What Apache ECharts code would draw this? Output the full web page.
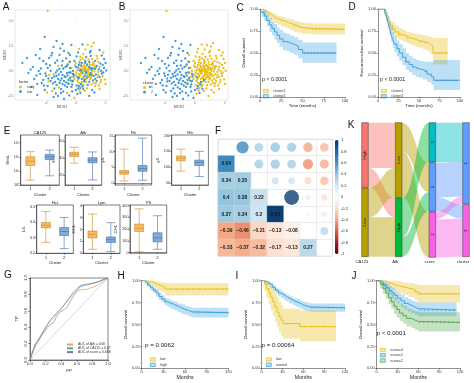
<!DOCTYPE html>
<html><head><meta charset="utf-8">
<script src="https://cdn.jsdelivr.net/npm/echarts@6/dist/echarts.min.js"></script>
<style>html,body{margin:0;padding:0;background:#fff}#c{width:474px;height:383px}</style>
</head><body><div id="c"></div>
<script>
// ================= DATA =================
// A/B: MDS coordinates (cluster 1 = yellow in B, cluster 2 = blue in B)
const mdsCluster1 = [
[0.5,0.0],[0.7,-0.2],[0.3,0.2],[0.9,0.1],[0.6,-0.5],[1.1,-0.3],[0.4,-0.8],[0.8,0.5],[1.3,0.2],[0.2,-0.3],
[0.0,0.4],[1.0,-0.7],[1.5,-0.1],[0.6,0.8],[0.1,-1.0],[1.2,0.7],[0.9,-1.1],[1.6,0.4],[0.3,1.1],[-0.2,0.0],
[1.8,-0.5],[0.7,1.4],[1.4,-1.0],[0.5,-1.4],[-0.3,-0.6],[1.9,0.3],[1.1,1.2],[0.2,0.6],[0.8,-0.4],[0.4,0.4],
[1.0,0.3],[0.6,0.1],[0.7,-0.8],[1.2,-0.5],[0.0,-0.4],[0.9,0.9],[1.5,0.9],[1.7,-0.9],[0.3,-1.7],[1.3,-1.5],
[-0.1,1.0],[0.5,1.7],[1.0,2.0],[1.4,1.5],[0.2,2.2],[0.8,2.6],[1.6,2.1],[-0.4,1.6],[1.2,2.8],[1.9,1.2],
[0.6,-2.0],[1.1,-1.9],[0.1,-2.3],[1.6,-1.8],[0.9,-2.5],[2.0,-1.3],[-0.5,-1.2],[-0.6,0.5],[2.0,0.8],[1.7,0.0],
[0.4,-0.1],[0.8,-0.1],[0.2,-0.7],[1.1,0.0],[0.6,0.4],[1.3,-0.8],[0.5,-0.6],[0.9,0.4],[0.3,-0.4],[1.4,0.5],
[0.7,0.2],[1.0,-0.2],[0.1,0.1],[1.2,-1.2],[0.4,0.8],[0.8,-1.4],[1.5,-0.4],[-0.1,-0.8],[1.8,0.6],[0.6,1.1],
[1.1,0.6],[0.0,0.8],[0.7,-1.1],[1.3,1.0],[0.3,1.4],[1.6,-0.6],[0.9,-0.6],[0.2,-1.2],[1.0,1.5],[-0.3,0.3],
[-1.9,6.0],
[0.45,-0.25],[0.65,-0.35],[0.35,0.05],[0.85,-0.15],[0.55,0.25],[1.05,0.15],[0.25,-0.55],[0.75,0.65],[1.25,-0.05],[0.15,0.35],
[0.95,-0.85],[0.55,-1.05],[1.35,0.35],[0.05,-0.15],[0.65,0.95],[1.15,-0.95],[0.35,-1.25],[1.55,0.15],[0.85,1.15],[-0.15,-0.35],
[1.75,-0.25],[0.45,1.25],[1.05,-1.35],[0.25,0.85],[1.45,-0.65],[0.75,-0.65],[0.95,0.65],[0.15,-0.85],[1.65,0.75],[0.55,-0.75],
[1.25,0.45],[0.35,0.55],[0.85,0.25],[0.65,-0.05],[1.15,0.85],[-0.05,0.55],[1.85,-0.15],[0.45,-1.55],[1.35,-1.25],[0.95,1.85],
[0.65,2.15],[1.45,1.25],[0.05,1.45],[1.75,1.55],[0.25,-1.95],[1.25,-2.15],[0.75,-1.75],[1.95,-0.85],[-0.35,-0.15],[0.55,0.55],
[1.05,-0.45],[0.35,-0.15],[0.75,0.05],[0.95,-0.35],[0.45,0.15],[1.15,0.25],[0.25,0.05],[0.65,0.45],[0.85,-0.55],[1.35,-0.35],
[-0.45,0.95],[0.15,1.85],[1.55,-1.45],[0.05,-1.45],[1.65,-1.15],[-0.25,-1.05],[2.05,0.05],[1.05,2.45],[0.45,2.65],[1.85,1.85]
];
const mdsCluster2 = [
[-0.9,-0.4],[-1.2,-0.8],[-0.6,-0.2],[-1.5,-0.3],[-0.8,-1.0],[-1.1,0.2],[-0.4,-0.7],[-1.7,-1.0],[-1.3,-1.4],[-0.5,-1.3],
[-2.0,-0.5],[-0.7,0.4],[-1.9,0.3],[-1.0,-1.8],[-0.3,-1.6],[-1.6,-2.0],[-2.3,-1.2],[-0.2,-0.3],[-1.4,0.8],[-0.9,1.0],
[-2.5,0.0],[-2.1,-1.9],[-0.6,-2.2],[-1.2,-2.5],[0.0,-1.9],[-2.8,-0.8],[-0.4,0.9],[-1.8,1.3],[-1.1,1.6],[-2.2,1.0],
[-0.8,2.0],[-1.5,2.4],[-2.1,3.4],[-2.7,1.6],[-0.5,1.8],[-3.6,0.8],[-3.0,-1.6],[-2.6,-2.4],[-0.1,-2.7],[0.3,-2.2],
[0.4,-1.1],[0.2,-1.5],[-0.2,-1.0],[0.5,-1.8],[-1.0,-0.1],[-1.3,-0.5],[-0.7,-0.6],[-1.6,-0.7],[-0.9,-1.3],[-1.9,-1.5],
[-2.4,-0.3],[-1.4,-1.1],[-0.4,0.3],[-1.7,0.0],[-1.2,0.5],[-0.6,-1.6],[-2.0,0.7],[-1.0,-2.2],[-2.9,0.4],[-1.5,-2.6],
[-0.3,2.6],[-1.3,3.0],[-2.4,2.2],[-3.2,-0.2],[-0.8,-2.8],[0.1,-0.6],[-1.1,-1.2],[-1.8,-0.4],[-0.5,-0.9],[-2.2,-0.9],
[-1.6,1.8],[-0.9,2.7],[-3.3,1.3],[-2.6,-1.3],[0.6,-0.9],
[-0.75,-0.55],[-1.05,-0.95],[-0.55,-0.45],[-1.35,-0.15],[-0.95,-0.75],[-1.25,0.05],[-0.35,-0.95],[-1.55,-1.25],[-1.15,-1.65],[-0.65,-1.15],
[-1.85,-0.75],[-0.85,0.25],[-1.75,0.55],[-0.85,-2.05],[-0.25,-1.35],[-1.45,-1.75],[-2.15,-1.45],[-0.15,-0.55],[-1.25,1.05],[-0.65,1.25],
[-2.35,0.25],[-1.95,-2.15],[-0.45,-2.45],[-1.35,-2.25],[0.15,-1.75],[-2.65,-0.45],[-0.55,0.65],[-1.65,1.55],[-1.05,2.25],[-2.45,1.25],
[-0.45,-0.15],[-1.15,-0.35],[-0.75,-1.45],[-1.45,-0.55],[-0.25,-2.05],[0.35,-1.35],[-1.85,-1.05],[-0.95,0.55],[-2.05,-0.25],[-3.05,0.15]
];
// A: factor of each point (y = early, b = late)
const factorCluster1 = ("ybyybybyby"+"byybyybyyb"+"ybbyybybyy"+"byybybyyby"+"bybyyybbyb"+"ybbybyybbb"+"yybyybybyb"+"ybyybbyyby"+"yyybybyyby"+"y"
  +"bybyybybyb"+"ybyybbybyb"+"byybybyyby"+"ybybyybbyb"+"yybbybyyby"+"byybybbyyb"+"ybybyybyby").split('');
const factorCluster2 = ("bbbybbbbbb"+"bbbbbybbbb"+"bbybbbbbbb"+"bbbbbbbbyb"+"ybbbbbbbbb"+"bbbbybbbbb"+"bbbbbbbybb"+"bbbbb"
  +"bbbbbbbbyb"+"bbbbbbbbbb"+"bybbbbbbbb"+"bbbbbbybbb").split('');
const mdsTicksX = [-2,0,2];
const mdsTicksY = [-2.5,0,2.5,5];

// C: overall survival by cluster
const kmC1Time  = [0,3,6,9,12,15,18,21,25,30,35,40,45,50,60,100];
const kmC1Surv  = [1,0.985,0.965,0.945,0.925,0.905,0.89,0.875,0.86,0.84,0.825,0.805,0.79,0.78,0.77,0.765];
const kmC1Lower = [1,0.96,0.93,0.905,0.88,0.86,0.84,0.82,0.80,0.78,0.76,0.74,0.73,0.72,0.71,0.71];
const kmC1Upper = [1,1,0.995,0.98,0.965,0.95,0.935,0.92,0.91,0.895,0.88,0.865,0.855,0.845,0.835,0.835];
const kmC1Censor = [40,44,48,53,57,62,66,70,74,78,82,86,90,94,98];
const kmC2Time  = [0,2,5,8,11,14,17,20,23,27,31,35,40,45,50,90];
const kmC2Surv  = [1,0.96,0.92,0.87,0.82,0.78,0.74,0.70,0.66,0.63,0.62,0.60,0.58,0.54,0.50,0.50];
const kmC2Lower = [1,0.91,0.86,0.80,0.74,0.70,0.65,0.61,0.57,0.53,0.52,0.50,0.48,0.44,0.39,0.39];
const kmC2Upper = [1,1,0.98,0.94,0.90,0.86,0.83,0.79,0.76,0.73,0.72,0.70,0.68,0.65,0.62,0.62];
const kmC2Censor = [52,56,60,64,68,72,76,80,84,88];

// D: recurrence-free survival by cluster
const kmD1Time  = [0,9,11,13,15,18,21,25,30,35,40,45,50,55,60,64,67,85];
const kmD1Surv  = [1,0.96,0.90,0.85,0.81,0.77,0.74,0.71,0.69,0.67,0.66,0.64,0.63,0.62,0.60,0.58,0.50,0.50];
const kmD1Lower = [1,0.93,0.86,0.80,0.76,0.71,0.68,0.65,0.63,0.61,0.59,0.57,0.56,0.54,0.52,0.49,0.37,0.37];
const kmD1Upper = [1,0.99,0.95,0.91,0.87,0.84,0.81,0.78,0.76,0.74,0.73,0.72,0.71,0.70,0.69,0.68,0.67,0.67];
const kmD1Censor = [27,36,44,52,58,70,74,78,82];
const kmD2Time  = [0,8,10,12,14,16,18,20,23,26,30,34,38,42,46,50,55,60,65,68,100];
const kmD2Surv  = [1,0.97,0.92,0.85,0.78,0.71,0.65,0.60,0.55,0.50,0.45,0.40,0.37,0.34,0.32,0.31,0.29,0.26,0.23,0.19,0.19];
const kmD2Lower = [1,0.93,0.86,0.78,0.70,0.63,0.56,0.51,0.46,0.41,0.36,0.31,0.28,0.25,0.23,0.22,0.20,0.17,0.14,0.08,0.08];
const kmD2Upper = [1,1,0.97,0.92,0.86,0.80,0.74,0.69,0.64,0.60,0.55,0.50,0.47,0.44,0.42,0.41,0.40,0.40,0.40,0.42,0.42];
const kmD2Censor = [34,48,58,72,76,80,84,88,92,96];

// H: overall survival low / high
const kmH1Time  = [0,8,14,18,22,26,32,120];
const kmH1Surv  = [1,0.99,0.975,0.96,0.945,0.93,0.905,0.905];
const kmH1Lower = [1,0.96,0.94,0.91,0.89,0.87,0.83,0.83];
const kmH1Upper = [1,1,1,1,0.99,0.98,0.97,0.97];
const kmH1Censor = [40,48,56,64,72,80,88,96,104,112,118];
const kmH2Time  = [0,4,8,12,16,20,24,28,32,36,40,45,50,55,60,65,70,120];
const kmH2Surv  = [1,0.98,0.95,0.92,0.89,0.86,0.82,0.79,0.76,0.745,0.73,0.71,0.69,0.675,0.66,0.645,0.635,0.635];
const kmH2Lower = [1,0.96,0.93,0.89,0.86,0.82,0.78,0.75,0.72,0.70,0.68,0.66,0.64,0.62,0.61,0.59,0.58,0.58];
const kmH2Upper = [1,1,0.98,0.95,0.92,0.90,0.86,0.83,0.80,0.79,0.77,0.76,0.74,0.73,0.71,0.70,0.69,0.69];
const kmH2Censor = [72,76,80,84,88,92,96,100,104,108,112,116,120];

// I: overall survival low / normal
const kmI1Time  = [0,4,7,10,13,16,19,22,25,28,31,55,107];
const kmI1Surv  = [1,0.96,0.91,0.86,0.81,0.76,0.70,0.64,0.59,0.55,0.51,0.475,0.475];
const kmI1Lower = [1,0.88,0.80,0.73,0.66,0.60,0.53,0.47,0.41,0.37,0.34,0.31,0.31];
const kmI1Upper = [1,1,1,0.98,0.94,0.90,0.86,0.81,0.76,0.72,0.68,0.66,0.66];
const kmI1Censor = [38,46,62,70,80,90,100];
const kmI2Time  = [0,4,8,12,16,20,24,28,32,36,40,45,50,55,60,65,70,120];
const kmI2Surv  = [1,0.99,0.97,0.95,0.92,0.89,0.86,0.84,0.82,0.80,0.78,0.76,0.745,0.725,0.71,0.70,0.69,0.69];
const kmI2Lower = [1,0.97,0.95,0.92,0.89,0.86,0.82,0.80,0.78,0.76,0.74,0.72,0.70,0.68,0.66,0.65,0.645,0.645];
const kmI2Upper = [1,1,0.99,0.98,0.95,0.92,0.90,0.88,0.86,0.84,0.82,0.80,0.79,0.77,0.76,0.75,0.74,0.74];
const kmI2Censor = [72,78,84,90,96,102,108,114,119];

// J: overall survival by score
const kmJ1Time  = [0,12,18,24,30,38,46,55,60,120];
const kmJ1Surv  = [1,0.98,0.96,0.945,0.93,0.915,0.90,0.875,0.85,0.85];
const kmJ1Lower = [1,0.94,0.91,0.89,0.86,0.84,0.81,0.78,0.75,0.75];
const kmJ1Upper = [1,1,1,1,0.99,0.98,0.97,0.96,0.95,0.95];
const kmJ1Censor = [64,70,76,82,88,94,100,106,112,117];
const kmJ2Time  = [0,6,10,14,18,22,26,30,35,40,45,50,55,60,115];
const kmJ2Surv  = [1,0.98,0.95,0.92,0.89,0.86,0.83,0.80,0.77,0.74,0.72,0.70,0.68,0.665,0.665];
const kmJ2Lower = [1,0.95,0.91,0.87,0.84,0.80,0.77,0.74,0.70,0.67,0.65,0.63,0.61,0.595,0.595];
const kmJ2Upper = [1,1,0.99,0.97,0.94,0.92,0.89,0.86,0.84,0.81,0.79,0.77,0.76,0.75,0.75];
const kmJ2Censor = [63,69,75,81,87,93,99,105,111];
const kmJ3Time  = [0,5,9,13,17,21,25,29,33,38,43,50,55,60,120];
const kmJ3Surv  = [1,0.96,0.91,0.86,0.81,0.76,0.71,0.67,0.63,0.60,0.57,0.55,0.535,0.525,0.525];
const kmJ3Lower = [1,0.91,0.85,0.79,0.73,0.68,0.62,0.58,0.54,0.51,0.48,0.46,0.44,0.42,0.42];
const kmJ3Upper = [1,1,0.97,0.93,0.89,0.85,0.81,0.77,0.74,0.71,0.68,0.66,0.65,0.64,0.64];
const kmJ3Censor = [62,68,74,80,86,92,98,104,110,116];

// E: box plots [min, Q1, median, Q3, max] for cluster 1 / cluster 2
const boxCA125 = [[2.2,24,48,100,230],[4.5,63,100,148,300]];
const boxAlb   = [[33.7,41.5,44.3,46.6,52.5],[14,34.3,37.3,40.2,47]];
const boxFb    = [[0.7,2.8,3.4,4.0,10.8],[0.9,3.75,4.6,5.6,14.3]];
const boxHb    = [[87,120,128,135,157],[70,105,115,122,150]];
const boxHct   = [[0.27,0.363,0.38,0.398,0.468],[0.23,0.314,0.34,0.365,0.43]];
const boxLym   = [[0.34,1.29,1.57,1.86,3.29],[0.14,0.91,1.14,1.37,2.57]];
const boxPlt   = [[8,180,208,243,372],[29,92,126,169,314]];
const boxClusters = ['1','2'];

// F: correlation matrix (lower triangle rows)
const corrVars = ['Alb','PA','Lym','Hb','Hct','Fb','CA125'];
const corrLower = [
  [],
  [0.64],
  [0.34,0.35],
  [0.4,0.38,0.22],
  [0.37,0.34,0.2,0.95],
  [-0.39,-0.46,-0.21,-0.13,-0.08],
  [-0.33,-0.37,-0.32,-0.17,-0.13,0.27]
];

// G: ROC curves [FP, TP]
const rocAlb = [[0,0],[0.02,0.06],[0.04,0.12],[0.06,0.18],[0.09,0.22],[0.12,0.26],[0.15,0.31],[0.19,0.37],[0.23,0.43],[0.27,0.48],[0.31,0.52],[0.35,0.57],[0.4,0.62],[0.45,0.68],[0.5,0.74],[0.55,0.8],[0.6,0.84],[0.66,0.86],[0.72,0.86],[0.78,0.88],[0.84,0.9],[0.9,0.93],[0.95,0.97],[1,1]];
const rocCA125 = [[0,0],[0.02,0.05],[0.05,0.13],[0.08,0.19],[0.11,0.23],[0.15,0.3],[0.19,0.35],[0.23,0.4],[0.27,0.44],[0.3,0.45],[0.34,0.53],[0.38,0.58],[0.43,0.61],[0.47,0.64],[0.52,0.72],[0.56,0.78],[0.6,0.84],[0.64,0.89],[0.7,0.91],[0.76,0.92],[0.82,0.94],[0.88,0.95],[0.94,0.98],[1,1]];
const rocScore = [[0,0],[0.02,0.07],[0.04,0.12],[0.07,0.2],[0.1,0.24],[0.14,0.3],[0.18,0.37],[0.22,0.43],[0.26,0.49],[0.3,0.53],[0.35,0.58],[0.4,0.63],[0.45,0.69],[0.5,0.75],[0.55,0.82],[0.6,0.87],[0.65,0.91],[0.7,0.92],[0.76,0.93],[0.82,0.94],[0.88,0.96],[0.94,0.98],[1,1]];
const rocLabels = ['AUC of Alb = 0.66','AUC of CA125 = 0.67','AUC of score = 0.688'];

// K: alluvial
const sankeyNodes = ['CA125:High','CA125:Low','Alb:Low','Alb:High','score:0','score:1','score:2','cluster:1','cluster:2'];
const sankeyLinks = [
  ['CA125:High','Alb:Low',68],['CA125:High','Alb:High',29],['CA125:Low','Alb:Low',44],['CA125:Low','Alb:High',59],
  ['Alb:Low','score:1',44],['Alb:Low','score:2',68],['Alb:High','score:0',59],['Alb:High','score:1',29],
  ['score:0','cluster:1',59],['score:1','cluster:1',52],['score:1','cluster:2',21],['score:2','cluster:1',11],['score:2','cluster:2',57]
];
const sankeyAxes = ['CA125','Alb','score','cluster'];

// ================= STYLE =================
const FONT = 'Liberation Sans, Arial, Helvetica, sans-serif';
const YEL = '#E7B800', BLU = '#2A8FD3', GRN = '#3F9A3C';
const YEL_B = 'rgba(231,184,0,0.32)', BLU_B = 'rgba(46,159,223,0.32)', GRN_B = 'rgba(63,154,60,0.30)';
const ORF = '#F5BC66', ORB = '#C98A2E', BLF = '#82ACDC', BLB = '#3E6FA8';
const HUE = {'CA125:High':'#F8766D','CA125:Low':'#B79F00','Alb:Low':'#B79F00','Alb:High':'#00BA38',
  'score:0':'#00BFC4','score:1':'#619CFF','score:2':'#F564E3','cluster:1':'#619CFF','cluster:2':'#F564E3'};
const PLUS = 'path://M-1,-0.14L1,-0.14L1,0.14L-1,0.14Z M-0.14,-1L0.14,-1L0.14,1L-0.14,1Z';

function merge(a,b){ const r=Object.assign({},a); for(const k in b){ const bv=b[k], av=a[k];
  if(bv && typeof bv==='object' && !Array.isArray(bv) && av && typeof av==='object' && !Array.isArray(av)) r[k]=merge(av,bv); else r[k]=bv; } return r; }

const grids=[], xAxes=[], yAxes=[], series=[], legends=[], graphics=[];
function addGrid(l,t,w,h,extra){ grids.push(Object.assign({left:l,top:t,width:w,height:h,containLabel:false,outerBoundsMode:'none'},extra||{})); return grids.length-1; }
const baseAxis = {axisLine:{show:true,lineStyle:{color:'#222',width:0.5}}, axisTick:{show:true,length:1.5,lineStyle:{color:'#222',width:0.5}},
  axisLabel:{fontSize:4,color:'#333',margin:2,fontFamily:FONT}, splitLine:{show:false}, nameTextStyle:{fontSize:4.5,color:'#222',fontFamily:FONT}};
function axis(gi,o){ return merge(merge(baseAxis,{gridIndex:gi}),o); }
function txt(x,y,text,size,o){ o=o||{}; return {type:'text', x:x, y:y, rotation:o.rot||0, silent:true, z:100,
  style:{text:text, fontSize:size, fontFamily:FONT, fontWeight:o.weight||'normal', fill:o.color||'#222', align:o.align||'center', verticalAlign:o.va||'middle'}}; }

// ================= A / B scatter =================
function mdsPanel(l,t,w,h,xmin,xmax,groups){
  const gi = addGrid(l,t,w,h,{show:true,borderColor:'#d0d0d0',borderWidth:0.5});
  xAxes.push(axis(gi,{type:'value',min:xmin,max:xmax,axisLine:{show:false},
    axisTick:{length:1.2,lineStyle:{color:'#999',width:0.4},customValues:mdsTicksX},
    axisLabel:{fontSize:3.4,color:'#777',margin:1.5,customValues:mdsTicksX}}));
  yAxes.push(axis(gi,{type:'value',min:-2.9,max:6.1,axisLine:{show:false},
    axisTick:{length:1.2,lineStyle:{color:'#999',width:0.4},customValues:mdsTicksY},
    axisLabel:{fontSize:3.4,color:'#777',margin:1.5,customValues:mdsTicksY,formatter:v=>(+v).toFixed(1)}}));
  groups.forEach(g=>series.push({type:'scatter',name:g.name,xAxisIndex:gi,yAxisIndex:gi,data:g.pts,symbolSize:2.3,
    itemStyle:{color:g.color,opacity:0.9},silent:true}));
}
const aEarly = mdsCluster1.filter((p,i)=>factorCluster1[i]==='y').concat(mdsCluster2.filter((p,i)=>factorCluster2[i]==='y'));
const aLate  = mdsCluster1.filter((p,i)=>factorCluster1[i]!=='y').concat(mdsCluster2.filter((p,i)=>factorCluster2[i]!=='y'));
mdsPanel(15,10,95,90,-4.1,2.3,[{name:'early',color:YEL,pts:aEarly},{name:'late',color:BLU,pts:aLate}]);
mdsPanel(130,10,98,90,-4.33,2.2,[{name:'1',color:YEL,pts:mdsCluster1},{name:'2',color:BLU,pts:mdsCluster2}]);
legends.push({left:19,top:85.5,orient:'vertical',itemWidth:3,itemHeight:3,itemGap:1.6,icon:'circle',padding:0,selectedMode:false,
  textStyle:{fontSize:3.4,color:'#444',fontFamily:FONT},data:['early','late']});
legends.push({left:143,top:86,orient:'vertical',itemWidth:3,itemHeight:3,itemGap:1.6,icon:'circle',padding:0,selectedMode:false,
  textStyle:{fontSize:3.4,color:'#444',fontFamily:FONT},data:['1','2']});
graphics.push(txt(19,82,'factor',3.6,{align:'left'}), txt(143,82.5,'cluster',3.6,{align:'left'}));
graphics.push(txt(62,107,'MDS1',3.8,{color:'#555'}), txt(5,55,'MDS2',3.8,{rot:Math.PI/2,color:'#555'}));
graphics.push(txt(179,107,'MDS1',3.8,{color:'#555'}), txt(121,55,'MDS2',3.8,{rot:Math.PI/2,color:'#555'}));

// ================= KM panels =================
function stepAt(ts,ss,t){ let v=ss[0]; for(let i=0;i<ts.length;i++){ if(ts[i]<=t) v=ss[i]; } return v; }
function bandSeries(gi,ts,lo,hi,color){
  const rows = ts.map((t,i)=>[t,lo[i],hi[i]]);
  return {type:'custom',xAxisIndex:gi,yAxisIndex:gi,silent:true,z:1,data:rows,encode:{x:0,y:[1,2]},
    renderItem:function(params,api){
      if(params.dataIndex!==0) return null;
      const pts=[]; const n=rows.length;
      for(let i=0;i<n;i++){ const tn = i<n-1?rows[i+1][0]:rows[i][0]; pts.push(api.coord([rows[i][0],rows[i][2]])); pts.push(api.coord([tn,rows[i][2]])); }
      for(let i=n-1;i>=0;i--){ const tn = i<n-1?rows[i+1][0]:rows[i][0]; pts.push(api.coord([tn,rows[i][1]])); pts.push(api.coord([rows[i][0],rows[i][1]])); }
      return {type:'polygon',shape:{points:pts},style:{fill:color}};
    }};
}
function kmPanel(l,t,w,h,xmax,xint,xName,yName,curves,yNameGap){
  const gi = addGrid(l,t,w,h);
  xAxes.push(axis(gi,{type:'value',min:0,max:xmax,interval:xint,name:xName,nameLocation:'middle',nameGap:7,
    nameTextStyle:{fontSize:xName==='Months'?5.2:4.3}}));
  yAxes.push(axis(gi,{type:'value',min:0,max:1,interval:0.25,name:yName,nameLocation:'middle',nameGap:yNameGap||12,
    axisLabel:{formatter:v=>(+v).toFixed(2)},nameTextStyle:{fontSize:4.3}}));
  curves.forEach(c=>series.push(bandSeries(gi,c.t,c.lo,c.hi,c.band)));
  curves.forEach(c=>{
    series.push({type:'line',name:c.name,xAxisIndex:gi,yAxisIndex:gi,step:'end',symbol:'none',z:3,silent:true,
      data:c.t.map((tt,i)=>[tt,c.s[i]]),lineStyle:{color:c.line,width:0.8},itemStyle:{color:c.line}});
    series.push({type:'scatter',xAxisIndex:gi,yAxisIndex:gi,symbol:PLUS,symbolSize:2.4,z:4,silent:true,
      data:c.cens.map(tt=>[tt,stepAt(c.t,c.s,tt)]),itemStyle:{color:c.line}});
  });
}
function kmLegend(l,t,items){
  legends.push({left:l,top:t,orient:'vertical',itemWidth:5,itemHeight:3.4,itemGap:1.3,padding:0,selectedMode:false,
    textStyle:{fontSize:3.5,color:'#333',fontFamily:FONT},
    data:items.map(it=>({name:it[0],icon:'rect',itemStyle:{color:it[1],borderColor:it[2],borderWidth:0.6}}))});
}
kmPanel(260,9,85,88,100,25,'Time (months)','Overall survival',[
  {name:'cluster1',t:kmC1Time,s:kmC1Surv,lo:kmC1Lower,hi:kmC1Upper,cens:kmC1Censor,line:YEL,band:YEL_B},
  {name:'cluster2',t:kmC2Time,s:kmC2Surv,lo:kmC2Lower,hi:kmC2Upper,cens:kmC2Censor,line:BLU,band:BLU_B}]);
kmPanel(378,9,82,88,100,25,'Time (months)','Recurrence-free survival',[
  {name:'cluster1',t:kmD1Time,s:kmD1Surv,lo:kmD1Lower,hi:kmD1Upper,cens:kmD1Censor,line:YEL,band:YEL_B},
  {name:'cluster2',t:kmD2Time,s:kmD2Surv,lo:kmD2Lower,hi:kmD2Upper,cens:kmD2Censor,line:BLU,band:BLU_B}]);
kmLegend(263,89,[['cluster1',YEL_B,YEL],['cluster2',BLU_B,BLU]]);
kmLegend(381,89,[['cluster1',YEL_B,YEL],['cluster2',BLU_B,BLU]]);
graphics.push(txt(262,80,'p < 0.0001',5.3,{align:'left'}), txt(380,79.5,'p < 0.0001',5.3,{align:'left'}));

kmPanel(141.7,280.7,86.6,87.6,120,30,'Months','Overall survival',[
  {name:'low',t:kmH1Time,s:kmH1Surv,lo:kmH1Lower,hi:kmH1Upper,cens:kmH1Censor,line:YEL,band:YEL_B},
  {name:'high',t:kmH2Time,s:kmH2Surv,lo:kmH2Lower,hi:kmH2Upper,cens:kmH2Censor,line:BLU,band:BLU_B}]);
kmPanel(261.7,280.7,83.3,87.6,120,30,'Months','Overall survival',[
  {name:'low',t:kmI1Time,s:kmI1Surv,lo:kmI1Lower,hi:kmI1Upper,cens:kmI1Censor,line:YEL,band:YEL_B},
  {name:'normal',t:kmI2Time,s:kmI2Surv,lo:kmI2Lower,hi:kmI2Upper,cens:kmI2Censor,line:BLU,band:BLU_B}]);
kmPanel(376.7,280.7,83.3,87.6,120,30,'Months','Overall survival',[
  {name:'score=0',t:kmJ1Time,s:kmJ1Surv,lo:kmJ1Lower,hi:kmJ1Upper,cens:kmJ1Censor,line:YEL,band:YEL_B},
  {name:'score=1',t:kmJ2Time,s:kmJ2Surv,lo:kmJ2Lower,hi:kmJ2Upper,cens:kmJ2Censor,line:BLU,band:BLU_B},
  {name:'score=2',t:kmJ3Time,s:kmJ3Surv,lo:kmJ3Lower,hi:kmJ3Upper,cens:kmJ3Censor,line:GRN,band:GRN_B}]);
kmLegend(150,357.5,[['low',YEL_B,YEL],['high',BLU_B,BLU]]);
kmLegend(266,357.5,[['low',YEL_B,YEL],['normal',BLU_B,BLU]]);
kmLegend(380,348,[['score=0',YEL_B,YEL],['score=1',BLU_B,BLU],['score=2',GRN_B,GRN]]);
graphics.push(txt(145,345,'p = 0.0062',6.2,{align:'left'}), txt(261.5,345,'p = 0.00064',6.2,{align:'left'}), txt(376.5,333,'p < 0.0001',6.2,{align:'left'}));

// ================= E box plots =================
function boxPanel(l,t,w,h,data,yOpt,title,unit){
  const gi = addGrid(l,t,w,h,{show:true,borderColor:'#222',borderWidth:0.6});
  xAxes.push(axis(gi,{type:'category',data:boxClusters,axisTick:{alignWithLabel:true},axisLabel:{fontSize:4.4,margin:2},
    name:'Cluster',nameLocation:'middle',nameGap:8,nameTextStyle:{fontSize:4}}));
  yAxes.push(axis(gi,merge({type:'value',name:unit,nameLocation:'middle',nameGap:yOpt.gap||10,nameTextStyle:{fontSize:3.8},
    axisLabel:{fontSize:3.8,margin:1.5}},yOpt.axis)));
  series.push({type:'boxplot',xAxisIndex:gi,yAxisIndex:gi,boxWidth:[9,9],silent:true,
    data:[{value:data[0],itemStyle:{color:ORF,borderColor:ORB,borderWidth:0.6}},{value:data[1],itemStyle:{color:BLF,borderColor:BLB,borderWidth:0.6}}]});
  graphics.push(txt(l+w/2,t-2.5,title,4.2));
}
const SUP = {'0':'\u2070','1':'\u00B9','2':'\u00B2','3':'\u00B3'};
boxPanel(20.7,135,38.6,50,boxCA125,{gap:11,axis:{type:'log',logBase:10,min:1,max:3500,
  axisLabel:{customValues:[1,10,100,1000],formatter:v=>'10'+SUP[String(Math.round(Math.log10(v)))]},axisTick:{customValues:[1,10,100,1000]}}},'CA125','U/mL');
boxPanel(65,135,36.7,50,boxAlb,{gap:8,axis:{min:8,max:67,axisLabel:{customValues:[20,40,60]},axisTick:{customValues:[20,40,60]}}},'Alb','g/L');
boxPanel(115,135,36.7,50,boxFb,{gap:8,axis:{min:-0.6,max:15.3,axisLabel:{customValues:[0,5,10,15]},axisTick:{customValues:[0,5,10,15]}}},'Fb','g/L');
boxPanel(171.7,135,36.7,50,boxHb,{gap:10,axis:{min:43,max:202,axisLabel:{customValues:[50,100,150,200]},axisTick:{customValues:[50,100,150,200]}}},'Hb','g/L');
boxPanel(36.7,205,36.6,48.3,boxHct,{gap:9,axis:{min:0.2,max:0.51,axisLabel:{customValues:[0.2,0.3,0.4,0.5],formatter:v=>(+v).toFixed(1)},axisTick:{customValues:[0.2,0.3,0.4,0.5]}}},'Hct','L/L');
boxPanel(83.3,205,36.7,48.3,boxLym,{gap:7,axis:{min:0,max:4.05,axisLabel:{customValues:[0,1,2,3,4]},axisTick:{customValues:[0,1,2,3,4]}}},'Lym','10\u2079/L');
boxPanel(130,205,36.7,48.3,boxPlt,{gap:10,axis:{min:-5,max:405,axisLabel:{customValues:[0,100,200,300,400]},axisTick:{customValues:[0,100,200,300,400]}}},'Plt','10\u2079/L');

// ================= F correlation =================
const giF = addGrid(218,139,114.5,117,{show:true,borderColor:'#cfcfcf',borderWidth:0.5});
const catAx = {type:'category',data:corrVars,axisLine:{show:false},axisTick:{show:false},axisLabel:{show:false},
  splitLine:{show:true,lineStyle:{color:'#d8d8d8',width:0.5}}};
xAxes.push(merge(catAx,{gridIndex:giF}));
yAxes.push(merge(catAx,{gridIndex:giF,inverse:true}));
const heatData=[], circData=[];
corrLower.forEach((row,i)=>row.forEach((r,j)=>{ heatData.push([j,i,r]); circData.push([i,j,r]); }));
const heatIdx = series.length;
series.push({type:'heatmap',xAxisIndex:giF,yAxisIndex:giF,data:heatData,silent:true,
  itemStyle:{borderColor:'#e4e4e4',borderWidth:0.3},
  label:{show:true,fontSize:4.9,fontWeight:'bold',color:'#1a1a1a',fontFamily:FONT,
    formatter:p=>{const v=p.value[2]; return v<0?'\u2212'+Math.abs(v):String(v);}}});
const circIdx = series.length;
series.push({type:'scatter',xAxisIndex:giF,yAxisIndex:giF,data:circData,silent:true,
  symbolSize:v=>16.3*0.93*Math.sqrt(Math.abs(v[2]))});
series.push({type:'scatter',xAxisIndex:giF,yAxisIndex:giF,silent:true,symbolSize:1,itemStyle:{opacity:0},
  data:corrVars.map((n,i)=>[i,i,n]),
  label:{show:true,position:'inside',fontSize:4.9,color:'#E0201E',fontFamily:FONT,formatter:p=>p.value[2]}});
const giCB = addGrid(338.5,140,0.5,114);
xAxes.push({type:'value',gridIndex:giCB,show:false});
yAxes.push(axis(giCB,{type:'value',min:-1,max:1,interval:0.2,position:'right',axisLine:{show:false},axisTick:{show:false},
  axisLabel:{fontSize:4,margin:2,formatter:v=>String(+(+v).toFixed(1))}}));

// ================= G ROC =================
const giG = addGrid(30,278,78,82,{show:true,borderColor:'#333',borderWidth:0.6});
xAxes.push(axis(giG,{type:'value',min:0,max:1,interval:0.2,name:'FP',nameLocation:'middle',nameGap:9,
  axisTick:{length:1.8},axisLabel:{fontSize:4.4,formatter:v=>(+v).toFixed(1)},nameTextStyle:{fontSize:4.4}}));
yAxes.push(axis(giG,{type:'value',min:0,max:1,interval:0.2,name:'TP',nameLocation:'middle',nameGap:11,
  axisTick:{length:1.8},axisLabel:{fontSize:4.4,rotate:90,formatter:v=>(+v).toFixed(1)},nameTextStyle:{fontSize:4.4}}));
series.push({type:'line',xAxisIndex:giG,yAxisIndex:giG,data:[[0,0],[1,1]],symbol:'none',silent:true,lineStyle:{color:'#bdbdbd',width:0.6}});
[[rocAlb,'#E6A15A'],[rocCA125,'#4FA9A3'],[rocScore,'#8B6CA6']].forEach((r,k)=>series.push({type:'line',name:rocLabels[k],
  xAxisIndex:giG,yAxisIndex:giG,data:r[0],symbol:'none',silent:true,lineStyle:{color:r[1],width:0.7},itemStyle:{color:r[1]}}));
legends.push({left:66,top:343,orient:'vertical',itemWidth:6,itemHeight:2,itemGap:0.8,padding:0,selectedMode:false,
  textStyle:{fontSize:3.4,color:'#333',fontFamily:FONT},data:rocLabels});

// ================= K alluvial =================
series.push({type:'sankey',left:361.7,top:122.7,width:107.6,height:134.6,nodeWidth:6.6,nodeGap:0.6,layoutIterations:0,
  draggable:false,silent:true,emphasis:{disabled:true},
  data:sankeyNodes.map(n=>({name:n,itemStyle:{color:HUE[n],borderColor:'#333',borderWidth:0.5}})),
  links:sankeyLinks.map(l=>({source:l[0],target:l[1],value:l[2]})),
  lineStyle:{color:'source',opacity:0.45,curveness:0.5},
  label:{show:true,position:'inside',rotate:90,fontSize:4.4,color:'#222',fontFamily:FONT,formatter:p=>p.name.split(':')[1]}});
const sankeyX=[365,398.3,432.7,466];
sankeyAxes.forEach((a,i)=>graphics.push(txt(sankeyX[i]-3,262,a,4.2)));

// ================= panel letters =================
[['A',6,7],['B',122,7],['C',240,8],['D',352,7],['E',7,131],['F',218,131],['K',351,125],['G',8,275],['H',121,276],['I',237,276],['J',354,276]]
  .forEach(p=>graphics.push(txt(p[1],p[2],p[0],10,{color:'#111'})));

// ================= visualMap / init =================
const option = {
  animation:false, backgroundColor:'#fff', textStyle:{fontFamily:FONT},
  grid:grids, xAxis:xAxes, yAxis:yAxes, series:series, legend:legends, graphic:{elements:graphics},
  visualMap:[{type:'continuous',min:-1,max:1,dimension:2,seriesIndex:[heatIdx,circIdx],calculable:false,
    left:335,top:140,itemWidth:3.5,itemHeight:114,padding:0,text:null,hoverLink:false,
    inRange:{color:['#67001F','#B2182B','#D6604D','#F4A582','#FDDBC7','#FFFFFF','#D1E5F0','#92C5DE','#4393C3','#2166AC','#053061']}}]
};
const chart = echarts.init(document.getElementById('c'),null,{renderer:'canvas'});
chart.setOption(option);
</script></body></html>
